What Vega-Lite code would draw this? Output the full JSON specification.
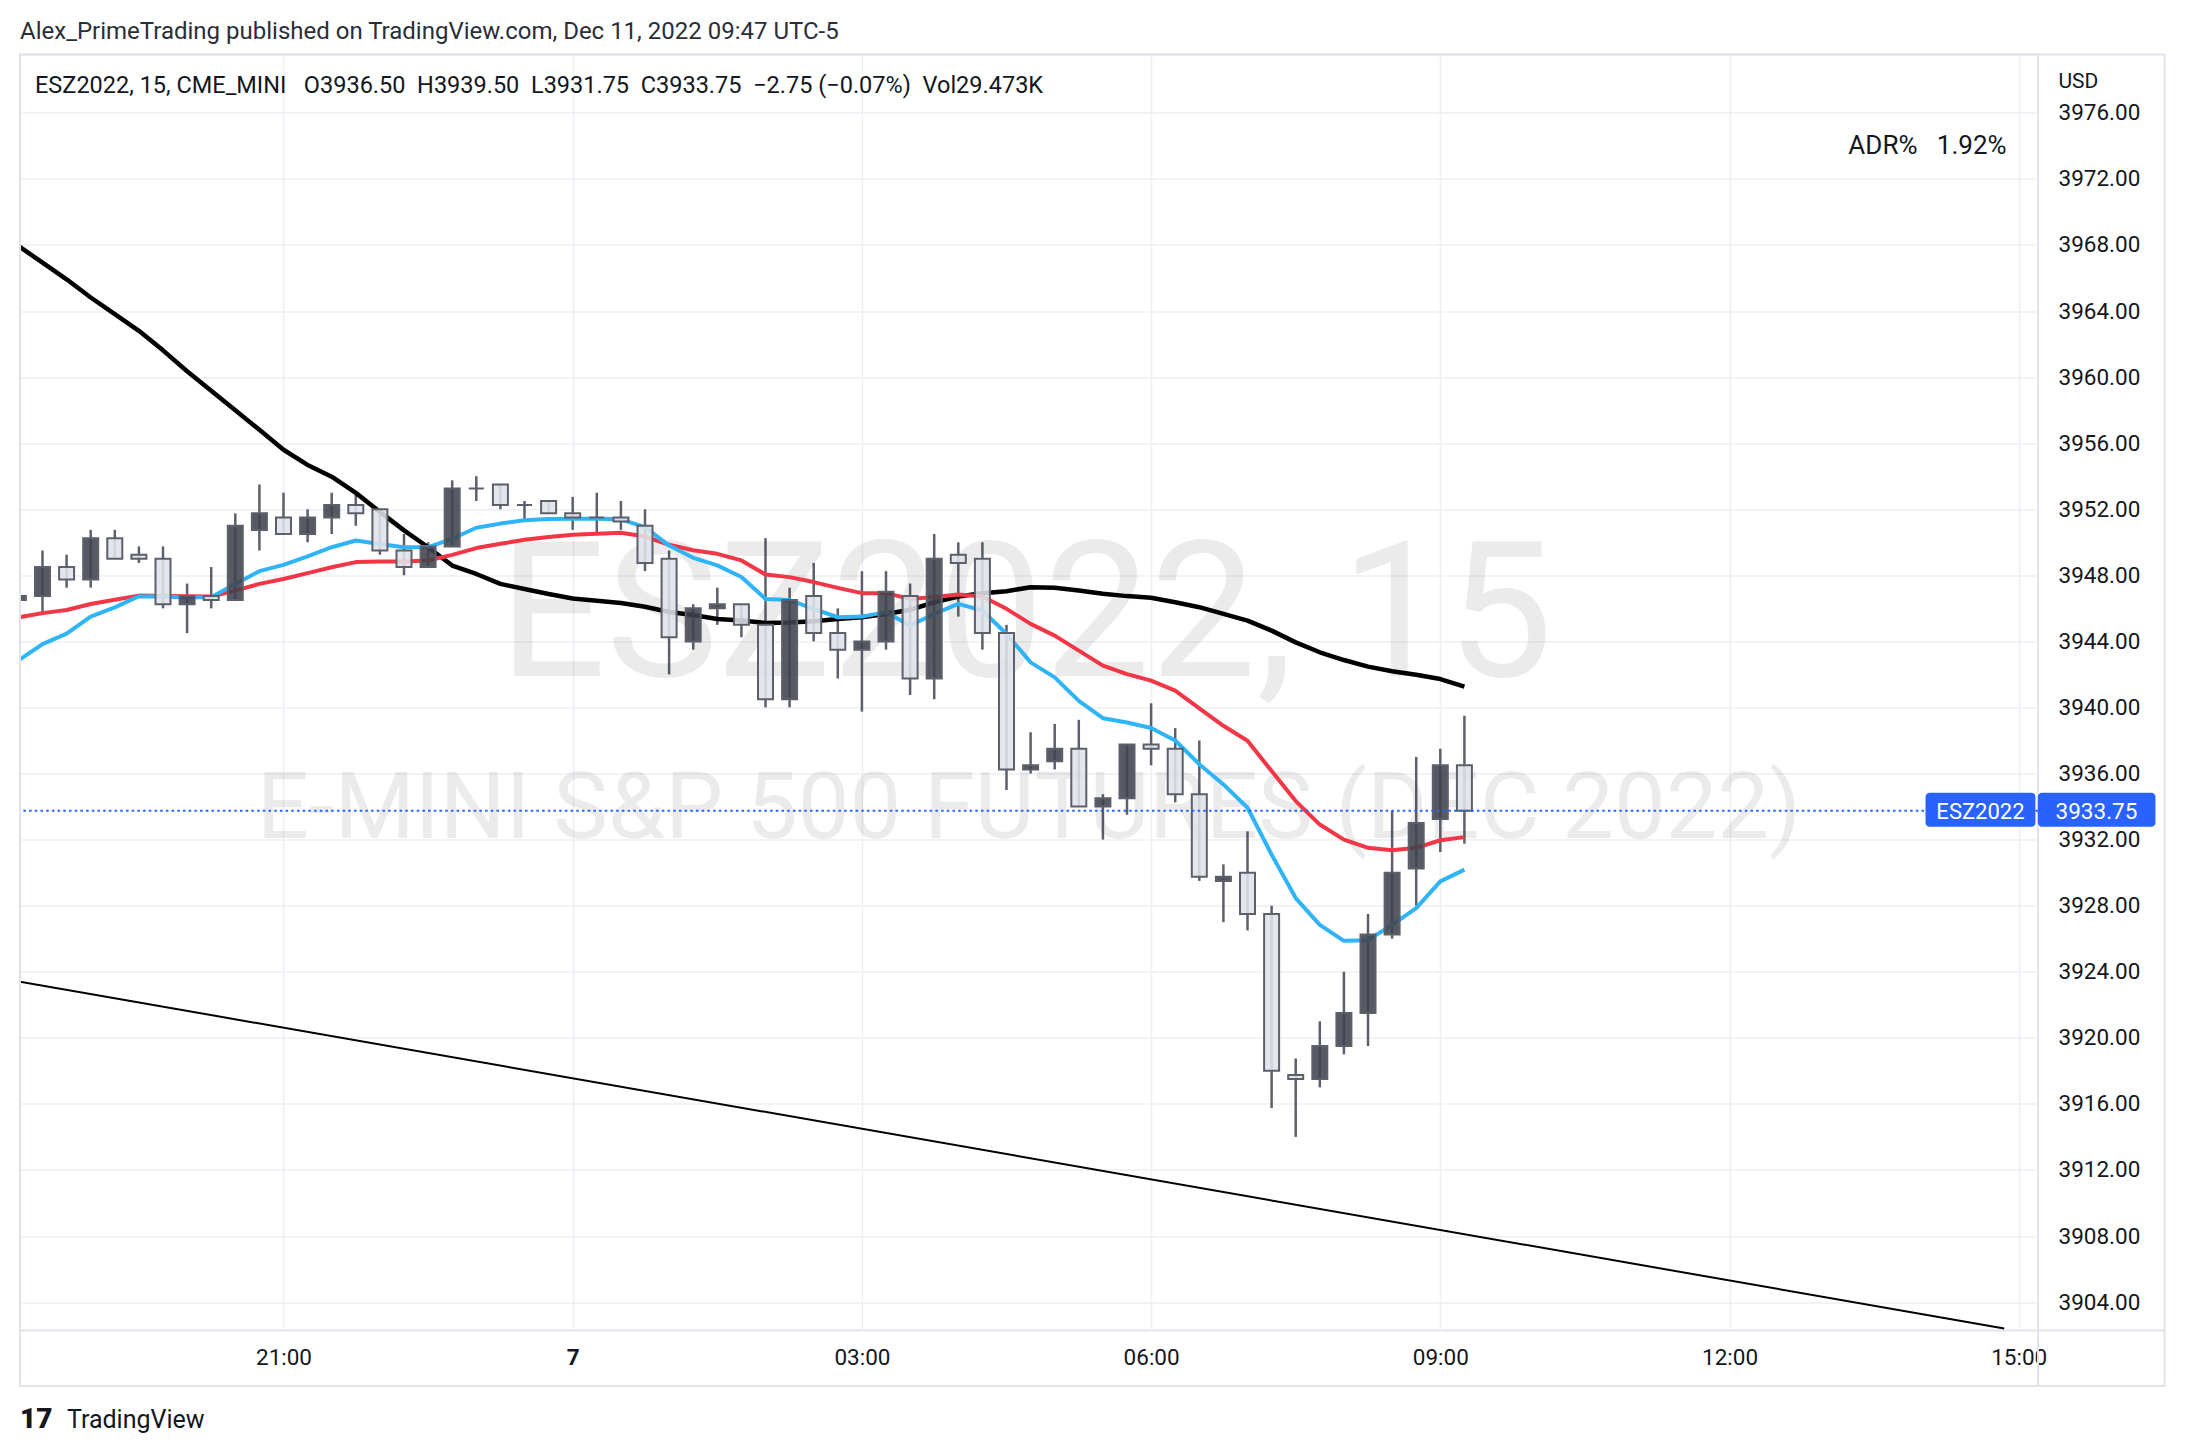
{
  "$schema": "https://vega.github.io/schema/vega-lite/v6.json",
  "width": 2018,
  "height": 1276,
  "autosize": "none",
  "padding": {"left": 20, "top": 54.5, "right": 148, "bottom": 125.5},
  "background": "#ffffff",
  "config": {
    "view": {"stroke": "#e0e3eb", "strokeWidth": 2},
    "font": "Roboto"
  },
  "resolve": {"axis": {"x": "independent", "y": "independent"}},
  "datasets": {
    "bars": [
      {"t":"2022-12-06T18:15:00","o":3946.5,"h":3947,"l":3946.25,"c":3946.75,"fast":3942.85,"slow":3945.45,"ma":3967.94},
      {"t":"2022-12-06T18:30:00","o":3946.75,"h":3949.5,"l":3945.75,"c":3948.5,"fast":3943.83,"slow":3945.71,"ma":3966.93},
      {"t":"2022-12-06T18:45:00","o":3948.5,"h":3949.25,"l":3947.25,"c":3947.75,"fast":3944.47,"slow":3945.9,"ma":3965.92},
      {"t":"2022-12-06T19:00:00","o":3947.75,"h":3950.75,"l":3947.25,"c":3950.25,"fast":3945.5,"slow":3946.26,"ma":3964.82},
      {"t":"2022-12-06T19:15:00","o":3950.25,"h":3950.75,"l":3949,"c":3949,"fast":3946.06,"slow":3946.52,"ma":3963.81},
      {"t":"2022-12-06T19:30:00","o":3949.25,"h":3949.75,"l":3948.75,"c":3949,"fast":3946.73,"slow":3946.77,"ma":3962.8},
      {"t":"2022-12-06T19:45:00","o":3949,"h":3949.75,"l":3946,"c":3946.25,"fast":3946.7,"slow":3946.75,"ma":3961.62},
      {"t":"2022-12-06T20:00:00","o":3946.25,"h":3947.5,"l":3944.5,"c":3946.75,"fast":3946.67,"slow":3946.73,"ma":3960.35},
      {"t":"2022-12-06T20:15:00","o":3946.75,"h":3948.5,"l":3946,"c":3946.5,"fast":3946.67,"slow":3946.71,"ma":3959.17},
      {"t":"2022-12-06T20:30:00","o":3946.5,"h":3951.75,"l":3946.5,"c":3951,"fast":3947.48,"slow":3947.07,"ma":3957.99},
      {"t":"2022-12-06T20:45:00","o":3950.75,"h":3953.5,"l":3949.5,"c":3951.75,"fast":3948.25,"slow":3947.48,"ma":3956.81},
      {"t":"2022-12-06T21:00:00","o":3951.5,"h":3953,"l":3950.5,"c":3950.5,"fast":3948.63,"slow":3947.78,"ma":3955.6},
      {"t":"2022-12-06T21:15:00","o":3950.5,"h":3952,"l":3950,"c":3951.5,"fast":3949.14,"slow":3948.13,"ma":3954.68},
      {"t":"2022-12-06T21:30:00","o":3951.5,"h":3953,"l":3950.5,"c":3952.25,"fast":3949.7,"slow":3948.49,"ma":3953.97},
      {"t":"2022-12-06T21:45:00","o":3952.25,"h":3953,"l":3951,"c":3951.75,"fast":3950.11,"slow":3948.8,"ma":3952.99},
      {"t":"2022-12-06T22:00:00","o":3952,"h":3952,"l":3949.25,"c":3949.5,"fast":3949.9,"slow":3948.84,"ma":3951.84},
      {"t":"2022-12-06T22:15:00","o":3949.5,"h":3950.5,"l":3948,"c":3948.5,"fast":3949.7,"slow":3948.84,"ma":3950.72},
      {"t":"2022-12-06T22:30:00","o":3948.5,"h":3950,"l":3948.5,"c":3949.75,"fast":3949.7,"slow":3948.9,"ma":3949.7},
      {"t":"2022-12-06T22:45:00","o":3949.75,"h":3953.75,"l":3949.75,"c":3953.25,"fast":3950.21,"slow":3949.24,"ma":3948.59},
      {"t":"2022-12-06T23:00:00","o":3953.25,"h":3954,"l":3952.5,"c":3953.25,"fast":3950.88,"slow":3949.65,"ma":3948.08},
      {"t":"2022-12-06T23:15:00","o":3953.5,"h":3953.5,"l":3952,"c":3952.25,"fast":3951.13,"slow":3949.91,"ma":3947.48},
      {"t":"2022-12-06T23:30:00","o":3952.25,"h":3952.5,"l":3951.25,"c":3952.25,"fast":3951.33,"slow":3950.15,"ma":3947.17},
      {"t":"2022-12-06T23:45:00","o":3952.5,"h":3952.5,"l":3951.75,"c":3951.75,"fast":3951.41,"slow":3950.32,"ma":3946.87},
      {"t":"2022-12-07T00:00:00","o":3951.75,"h":3952.75,"l":3950.75,"c":3951.5,"fast":3951.43,"slow":3950.46,"ma":3946.6},
      {"t":"2022-12-07T00:15:00","o":3951.5,"h":3953,"l":3950.5,"c":3951.5,"fast":3951.43,"slow":3950.52,"ma":3946.46},
      {"t":"2022-12-07T00:30:00","o":3951.5,"h":3952.5,"l":3950.75,"c":3951.25,"fast":3951.39,"slow":3950.58,"ma":3946.32},
      {"t":"2022-12-07T00:45:00","o":3951,"h":3952,"l":3948.25,"c":3948.75,"fast":3950.92,"slow":3950.35,"ma":3946.1},
      {"t":"2022-12-07T01:00:00","o":3949,"h":3949.5,"l":3942,"c":3944.25,"fast":3949.8,"slow":3949.85,"ma":3945.78},
      {"t":"2022-12-07T01:15:00","o":3944,"h":3946.25,"l":3943.5,"c":3946,"fast":3949.06,"slow":3949.52,"ma":3945.6},
      {"t":"2022-12-07T01:30:00","o":3946,"h":3947.25,"l":3945,"c":3946.25,"fast":3948.6,"slow":3949.3,"ma":3945.36},
      {"t":"2022-12-07T01:45:00","o":3946.25,"h":3946.25,"l":3944.25,"c":3945,"fast":3947.9,"slow":3948.9,"ma":3945.26},
      {"t":"2022-12-07T02:00:00","o":3945,"h":3950.25,"l":3940,"c":3940.5,"fast":3946.57,"slow":3948.05,"ma":3945.12},
      {"t":"2022-12-07T02:15:00","o":3940.5,"h":3947.25,"l":3940,"c":3946.5,"fast":3946.5,"slow":3947.89,"ma":3945.14},
      {"t":"2022-12-07T02:30:00","o":3946.75,"h":3948.75,"l":3944,"c":3944.5,"fast":3945.97,"slow":3947.59,"ma":3945.22},
      {"t":"2022-12-07T02:45:00","o":3944.5,"h":3946,"l":3941.75,"c":3943.5,"fast":3945.46,"slow":3947.24,"ma":3945.36},
      {"t":"2022-12-07T03:00:00","o":3943.5,"h":3948.25,"l":3939.75,"c":3944,"fast":3945.5,"slow":3946.92,"ma":3945.46},
      {"t":"2022-12-07T03:15:00","o":3944,"h":3948.25,"l":3943.5,"c":3947,"fast":3945.77,"slow":3946.92,"ma":3945.66},
      {"t":"2022-12-07T03:30:00","o":3946.75,"h":3947.5,"l":3940.75,"c":3941.75,"fast":3944.96,"slow":3946.57,"ma":3945.91},
      {"t":"2022-12-07T03:45:00","o":3941.75,"h":3950.5,"l":3940.5,"c":3949,"fast":3945.66,"slow":3946.68,"ma":3946.37},
      {"t":"2022-12-07T04:00:00","o":3949.25,"h":3950,"l":3945.5,"c":3948.75,"fast":3946.27,"slow":3946.84,"ma":3946.72},
      {"t":"2022-12-07T04:15:00","o":3949,"h":3950,"l":3943.5,"c":3944.5,"fast":3945.87,"slow":3946.72,"ma":3946.92},
      {"t":"2022-12-07T04:30:00","o":3944.5,"h":3945,"l":3935,"c":3936.25,"fast":3944.45,"slow":3945.97,"ma":3947.04},
      {"t":"2022-12-07T04:45:00","o":3936.25,"h":3938.5,"l":3936,"c":3936.5,"fast":3942.73,"slow":3945.06,"ma":3947.28},
      {"t":"2022-12-07T05:00:00","o":3936.75,"h":3939,"l":3936.25,"c":3937.5,"fast":3941.82,"slow":3944.35,"ma":3947.24},
      {"t":"2022-12-07T05:15:00","o":3937.5,"h":3939.25,"l":3934,"c":3934,"fast":3940.4,"slow":3943.44,"ma":3947.08},
      {"t":"2022-12-07T05:30:00","o":3934,"h":3934.75,"l":3932,"c":3934.5,"fast":3939.35,"slow":3942.53,"ma":3946.88},
      {"t":"2022-12-07T05:45:00","o":3934.5,"h":3937.75,"l":3933.5,"c":3937.75,"fast":3939.09,"slow":3942.02,"ma":3946.74},
      {"t":"2022-12-07T06:00:00","o":3937.75,"h":3940.25,"l":3936.5,"c":3937.5,"fast":3938.76,"slow":3941.62,"ma":3946.64},
      {"t":"2022-12-07T06:15:00","o":3937.5,"h":3938.75,"l":3934.25,"c":3934.75,"fast":3938,"slow":3941.02,"ma":3946.37},
      {"t":"2022-12-07T06:30:00","o":3934.75,"h":3938,"l":3929.5,"c":3929.75,"fast":3936.56,"slow":3939.95,"ma":3946.07},
      {"t":"2022-12-07T06:45:00","o":3929.5,"h":3930.5,"l":3927,"c":3929.75,"fast":3935.34,"slow":3938.89,"ma":3945.66},
      {"t":"2022-12-07T07:00:00","o":3930,"h":3932.5,"l":3926.5,"c":3927.5,"fast":3933.93,"slow":3937.98,"ma":3945.26},
      {"t":"2022-12-07T07:15:00","o":3927.5,"h":3928,"l":3915.75,"c":3918,"fast":3931.09,"slow":3936.15,"ma":3944.65},
      {"t":"2022-12-07T07:30:00","o":3917.75,"h":3918.75,"l":3914,"c":3917.5,"fast":3928.46,"slow":3934.33,"ma":3943.94},
      {"t":"2022-12-07T07:45:00","o":3917.5,"h":3921,"l":3917,"c":3919.5,"fast":3926.84,"slow":3932.91,"ma":3943.34},
      {"t":"2022-12-07T08:00:00","o":3919.5,"h":3924,"l":3919,"c":3921.5,"fast":3925.87,"slow":3932,"ma":3942.87},
      {"t":"2022-12-07T08:15:00","o":3921.5,"h":3927.5,"l":3919.5,"c":3926.25,"fast":3925.91,"slow":3931.5,"ma":3942.47},
      {"t":"2022-12-07T08:30:00","o":3926.25,"h":3933.75,"l":3926,"c":3930,"fast":3926.84,"slow":3931.36,"ma":3942.19},
      {"t":"2022-12-07T08:45:00","o":3930.25,"h":3937,"l":3928,"c":3933,"fast":3927.85,"slow":3931.5,"ma":3941.98},
      {"t":"2022-12-07T09:00:00","o":3933.25,"h":3937.5,"l":3931.25,"c":3936.5,"fast":3929.47,"slow":3931.96,"ma":3941.72},
      {"t":"2022-12-07T09:15:00","o":3936.5,"h":3939.5,"l":3931.75,"c":3933.75,"fast":3930.18,"slow":3932.15,"ma":3941.26}
    ],
    "trend": [
      {"t":"2022-12-06T18:16:00","v":3923.4},
      {"t":"2022-12-07T14:51:00","v":3902.4}
    ],
    "last": [{"sym":"ESZ2022","price":3933.75,"label":"3933.75"}]
  },
  "layer": [
    {
      "data": {"name": "bars"},
      "mark": {"type": "rule", "color": "#5d606b", "strokeWidth": 2.5, "clip": true},
      "encoding": {
        "x": {
          "field": "t", "type": "temporal",
          "scale": {"domain": [{"year": 2022, "month": 12, "date": 6, "hours": 18, "minutes": 16}, {"year": 2022, "month": 12, "date": 7, "hours": 15, "minutes": 12}], "nice": false, "padding": 0},
          "axis": {
            "orient": "bottom",
            "title": null,
            "values": [
              {"year": 2022, "month": 12, "date": 6, "hours": 21},
              {"year": 2022, "month": 12, "date": 7, "hours": 0},
              {"year": 2022, "month": 12, "date": 7, "hours": 3},
              {"year": 2022, "month": 12, "date": 7, "hours": 6},
              {"year": 2022, "month": 12, "date": 7, "hours": 9},
              {"year": 2022, "month": 12, "date": 7, "hours": 12},
              {"year": 2022, "month": 12, "date": 7, "hours": 15}
            ],
            "labelExpr": "hours(datum.value) == 0 ? '' + date(datum.value) : timeFormat(datum.value, '%H:%M')",
            "labelFontWeight": {"condition": {"test": "hours(datum.value) == 0", "value": "bold"}, "value": "normal"},
            "labelFont": "Roboto",
            "labelFontSize": 22.5,
            "labelColor": "#131722",
            "labelPadding": 16,
            "labelFlush": false,
            "labelOverlap": false,
            "ticks": false,
            "domain": false,
            "grid": true,
            "gridColor": "#eceff4",
            "gridWidth": 1.5
          }
        },
        "y": {
          "field": "l", "type": "quantitative",
          "scale": {"domain": [3902.28, 3979.53], "nice": false, "zero": false},
          "axis": {
            "orient": "right",
            "values": [3904, 3908, 3912, 3916, 3920, 3924, 3928, 3932, 3936, 3940, 3944, 3948, 3952, 3956, 3960, 3964, 3968, 3972, 3976],
            "format": ".2f",
            "labelFont": "Roboto",
            "labelFontSize": 22.5,
            "labelColor": "#131722",
            "labelAlign": "left",
            "labelPadding": 20,
            "labelFlush": false,
            "labelOverlap": false,
            "ticks": false,
            "domain": false,
            "grid": true,
            "gridColor": "#eceff4",
            "gridWidth": 1.5,
            "title": "USD",
            "titleAngle": 0,
            "titleAlign": "left",
            "titleBaseline": "alphabetic",
            "titleX": 20,
            "titleY": 32.5,
            "titleFont": "Roboto",
            "titleFontSize": 21,
            "titleFontWeight": "normal",
            "titleColor": "#131722"
          }
        },
        "y2": {"field": "h"}
      }
    },
    {
      "data": {"values": [{"text": "ESZ2022, 15"}]},
      "mark": {"type": "text", "font": "Roboto", "fontSize": 189, "color": "#131722", "opacity": 0.08, "align": "center", "baseline": "alphabetic"},
      "encoding": {
        "x": {"datum": {"year": 2022, "month": 12, "date": 7, "hours": 4, "minutes": 42}, "type": "temporal", "axis": null},
        "y": {"datum": 3941.9, "type": "quantitative", "axis": null},
        "text": {"field": "text"}
      }
    },
    {
      "data": {"values": [{"text": "E-MINI S&P 500 FUTURES (DEC 2022)"}]},
      "mark": {"type": "text", "font": "Roboto", "fontSize": 92, "color": "#131722", "opacity": 0.08, "align": "center", "baseline": "alphabetic"},
      "encoding": {
        "x": {"datum": {"year": 2022, "month": 12, "date": 7, "hours": 4, "minutes": 44}, "type": "temporal", "axis": null},
        "y": {"datum": 3932.1, "type": "quantitative", "axis": null},
        "text": {"field": "text"}
      }
    },
    {
      "data": {"name": "trend"},
      "mark": {"type": "line", "color": "#000000", "strokeWidth": 2, "clip": true},
      "encoding": {
        "x": {"field": "t", "type": "temporal", "axis": null},
        "y": {"field": "v", "type": "quantitative", "axis": null}
      }
    },
    {
      "data": {"name": "bars"},
      "mark": {"type": "line", "color": "#000000", "strokeWidth": 4.5, "strokeJoin": "round", "clip": true},
      "encoding": {
        "x": {"field": "t", "type": "temporal", "axis": null},
        "y": {"field": "ma", "type": "quantitative", "axis": null}
      }
    },
    {
      "data": {"name": "bars"},
      "mark": {"type": "line", "color": "#f23645", "strokeWidth": 4, "strokeJoin": "round", "clip": true},
      "encoding": {
        "x": {"field": "t", "type": "temporal", "axis": null},
        "y": {"field": "slow", "type": "quantitative", "axis": null}
      }
    },
    {
      "data": {"name": "bars"},
      "mark": {"type": "line", "color": "#2fb4f7", "strokeWidth": 4, "strokeJoin": "round", "clip": true},
      "encoding": {
        "x": {"field": "t", "type": "temporal", "axis": null},
        "y": {"field": "fast", "type": "quantitative", "axis": null}
      }
    },
    {
      "data": {"name": "bars"},
      "mark": {"type": "bar", "size": 15, "stroke": "#5d606b", "strokeWidth": 2, "fillOpacity": 0.88, "clip": true},
      "encoding": {
        "x": {"field": "t", "type": "temporal", "axis": null, "scale": {"domain": [{"year": 2022, "month": 12, "date": 6, "hours": 18, "minutes": 16}, {"year": 2022, "month": 12, "date": 7, "hours": 15, "minutes": 12}], "nice": false, "padding": 0}},
        "y": {"field": "o", "type": "quantitative", "axis": null},
        "y2": {"field": "c"},
        "fill": {"condition": {"test": "datum.c >= datum.o", "value": "#40434c"}, "value": "#e0e3eb"}
      }
    },
    {
      "data": {"name": "last"},
      "mark": {"type": "rule", "color": "#2962ff", "strokeWidth": 2, "strokeDash": [2.5, 3.2]},
      "encoding": {
        "y": {"field": "price", "type": "quantitative", "axis": null}
      }
    },
    {
      "data": {"values": [{"text": "ESZ2022, 15, CME_MINI\u00a0\u00a0\u00a0O3936.50\u00a0\u00a0H3939.50\u00a0\u00a0L3931.75\u00a0\u00a0C3933.75\u00a0\u00a0\u22122.75 (\u22120.07%)\u00a0\u00a0Vol29.473K"}]},
      "mark": {"type": "text", "font": "Roboto", "fontSize": 23.5, "color": "#131722", "align": "left", "baseline": "alphabetic"},
      "encoding": {
        "x": {"datum": {"year": 2022, "month": 12, "date": 6, "hours": 18, "minutes": 25, "seconds": 20}, "type": "temporal", "axis": null},
        "y": {"datum": 3977.22, "type": "quantitative", "axis": null},
        "text": {"field": "text"}
      }
    },
    {
      "data": {"values": [{"text": "ADR%\u00a0\u00a0\u00a01.92%"}]},
      "mark": {"type": "text", "font": "Roboto", "fontSize": 26, "color": "#131722", "align": "right", "baseline": "alphabetic"},
      "encoding": {
        "x": {"datum": {"year": 2022, "month": 12, "date": 7, "hours": 14, "minutes": 52, "seconds": 25}, "type": "temporal", "axis": null},
        "y": {"datum": 3973.49, "type": "quantitative", "axis": null},
        "text": {"field": "text"}
      }
    },
    {
      "data": {"values": [{"text": "Alex_PrimeTrading published on TradingView.com, Dec 11, 2022 09:47 UTC-5"}]},
      "mark": {"type": "text", "font": "Roboto", "fontSize": 24, "color": "#2a2e39", "align": "left", "baseline": "alphabetic"},
      "encoding": {
        "x": {"datum": {"year": 2022, "month": 12, "date": 6, "hours": 18, "minutes": 16}, "type": "temporal", "axis": null},
        "y": {"datum": 3980.44, "type": "quantitative", "axis": null},
        "text": {"field": "text"}
      }
    },
    {
      "data": {"values": [{"text": "TradingView"}]},
      "mark": {"type": "text", "font": "Roboto", "fontSize": 25, "color": "#131722", "align": "left", "baseline": "alphabetic"},
      "encoding": {
        "x": {"datum": {"year": 2022, "month": 12, "date": 6, "hours": 18, "minutes": 45, "seconds": 12}, "type": "temporal", "axis": null},
        "y": {"datum": 3896.35, "type": "quantitative", "axis": null},
        "text": {"field": "text"}
      }
    },
    {
      "data": {"values": [{"text": "17"}]},
      "mark": {"type": "text", "font": "Roboto", "fontSize": 28, "fontWeight": 900, "color": "#131722", "align": "left", "baseline": "alphabetic"},
      "encoding": {
        "x": {"datum": {"year": 2022, "month": 12, "date": 6, "hours": 18, "minutes": 16}, "type": "temporal", "axis": null},
        "y": {"datum": 3896.35, "type": "quantitative", "axis": null},
        "text": {"field": "text"}
      }
    },
    {
      "data": {"values": [{}]},
      "mark": {"type": "rect", "fillOpacity": 0, "stroke": "#e0e3eb", "strokeWidth": 2},
      "encoding": {
        "x": {"datum": {"year": 2022, "month": 12, "date": 6, "hours": 18, "minutes": 16}, "type": "temporal", "axis": null},
        "x2": {"datum": {"year": 2022, "month": 12, "date": 7, "hours": 16, "minutes": 30, "seconds": 42}},
        "y": {"datum": 3979.53, "type": "quantitative", "axis": null},
        "y2": {"datum": 3898.92}
      }
    },
    {
      "data": {"values": [{}]},
      "mark": {"type": "rule", "stroke": "#e0e3eb", "strokeWidth": 2},
      "encoding": {
        "x": {"datum": {"year": 2022, "month": 12, "date": 7, "hours": 15, "minutes": 12}, "type": "temporal", "axis": null},
        "x2": {"datum": {"year": 2022, "month": 12, "date": 7, "hours": 16, "minutes": 30, "seconds": 42}},
        "y": {"datum": 3902.28, "type": "quantitative", "axis": null}
      }
    },
    {
      "data": {"values": [{}]},
      "mark": {"type": "rule", "stroke": "#e0e3eb", "strokeWidth": 2},
      "encoding": {
        "x": {"datum": {"year": 2022, "month": 12, "date": 7, "hours": 15, "minutes": 12}, "type": "temporal", "axis": null},
        "y": {"datum": 3902.28, "type": "quantitative", "axis": null},
        "y2": {"datum": 3898.92}
      }
    },
    {
      "data": {"values": [{}]},
      "mark": {"type": "rect", "fill": "#2962ff", "cornerRadius": 4},
      "encoding": {
        "x": {"datum": {"year": 2022, "month": 12, "date": 7, "hours": 14, "minutes": 2}, "type": "temporal", "axis": null},
        "x2": {"datum": {"year": 2022, "month": 12, "date": 7, "hours": 15, "minutes": 10, "seconds": 24}},
        "y": {"datum": 3934.84, "type": "quantitative", "axis": null},
        "y2": {"datum": 3932.78}
      }
    },
    {
      "data": {"values": [{}]},
      "mark": {"type": "rect", "fill": "#2962ff", "cornerRadius": 4},
      "encoding": {
        "x": {"datum": {"year": 2022, "month": 12, "date": 7, "hours": 15, "minutes": 11, "seconds": 54}, "type": "temporal", "axis": null},
        "x2": {"datum": {"year": 2022, "month": 12, "date": 7, "hours": 16, "minutes": 25, "seconds": 6}},
        "y": {"datum": 3934.84, "type": "quantitative", "axis": null},
        "y2": {"datum": 3932.78}
      }
    },
    {
      "data": {"name": "last"},
      "mark": {"type": "text", "font": "Roboto", "fontSize": 22, "color": "#ffffff", "align": "center", "baseline": "middle", "dy": 1},
      "encoding": {
        "x": {"datum": {"year": 2022, "month": 12, "date": 7, "hours": 14, "minutes": 36, "seconds": 12}, "type": "temporal", "axis": null},
        "y": {"field": "price", "type": "quantitative", "axis": null},
        "text": {"field": "sym"}
      }
    },
    {
      "data": {"name": "last"},
      "mark": {"type": "text", "font": "Roboto", "fontSize": 22.5, "color": "#ffffff", "align": "center", "baseline": "middle", "dy": 1},
      "encoding": {
        "x": {"datum": {"year": 2022, "month": 12, "date": 7, "hours": 15, "minutes": 48, "seconds": 24}, "type": "temporal", "axis": null},
        "y": {"field": "price", "type": "quantitative", "axis": null},
        "text": {"field": "label"}
      }
    }
  ]
}
